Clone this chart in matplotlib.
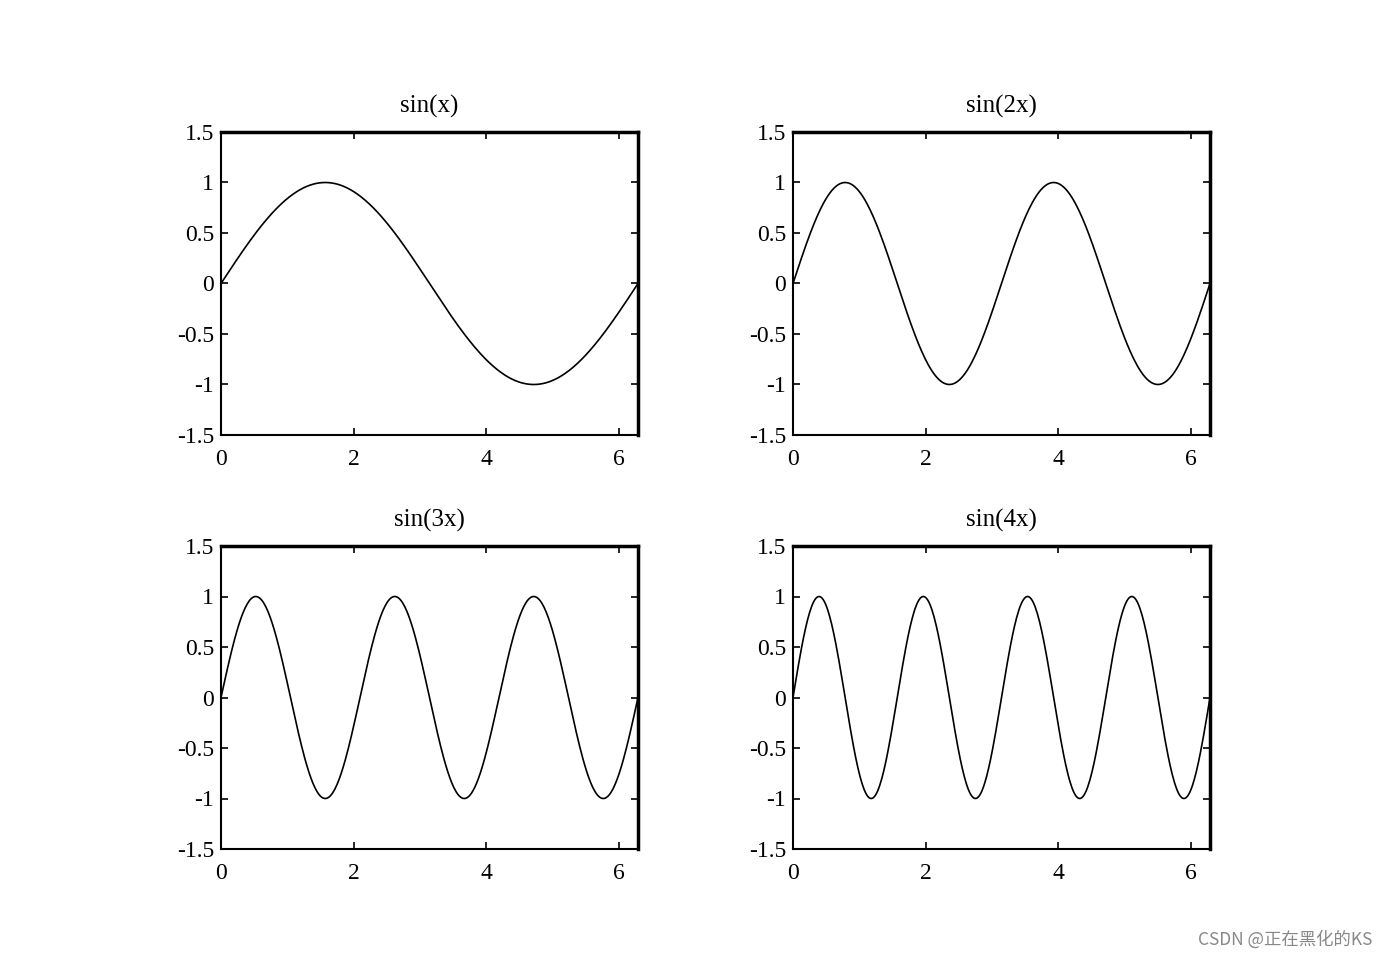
import numpy as np
import matplotlib
matplotlib.use("Agg")
import matplotlib.pyplot as plt

titles = ["sin(x)", "sin(2x)", "sin(3x)", "sin(4x)"]
freqs = [1, 2, 3, 4]
xticks = [0, 2, 4, 6]
yticks = [-1.5, -1, -0.5, 0, 0.5, 1, 1.5]
yticklabels = ["-1.5", "-1", "-0.5", "0", "0.5", "1", "1.5"]

plt.rcParams['font.family'] = ['Liberation Serif', 'DejaVu Serif']
fig = plt.figure(figsize=(13.86, 9.58), dpi=100)
lefts = [221/1386, 793/1386]
bottoms = [1-435/958, 1-849/958]
w, h = 417/1386, 303/958
x = np.linspace(0, 2*np.pi, 400)
for i, (t, f) in enumerate(zip(titles, freqs)):
    ax = fig.add_axes([lefts[i % 2], bottoms[i // 2], w, h])
    ax.plot(x, np.sin(f*x), color='black', lw=1.2)
    ax.set_xlim(0, 2*np.pi)
    ax.set_ylim(-1.5, 1.5)
    ax.set_xticks(xticks)
    ax.set_xticklabels([str(v) for v in xticks])
    ax.set_yticks(yticks)
    ax.set_yticklabels(yticklabels)
    ax.tick_params(direction='in', top=True, right=True, labelsize=17, length=5, width=1.2)
    ax.tick_params(axis='x', pad=10)
    ax.tick_params(axis='y', pad=5)
    for name, s in ax.spines.items():
        s.set_linewidth(2.5 if name in ('top', 'right') else 1.5)
    ax.set_title(t, fontsize=18, pad=14)

fig.text(0.99, 0.01, "CSDN @正在黑化的KS", ha='right', va='bottom', fontsize=12.5,
         color='#888888', family=['Noto Sans CJK SC', 'DejaVu Sans'])
fig.savefig("out.png", dpi=100, facecolor='white')
